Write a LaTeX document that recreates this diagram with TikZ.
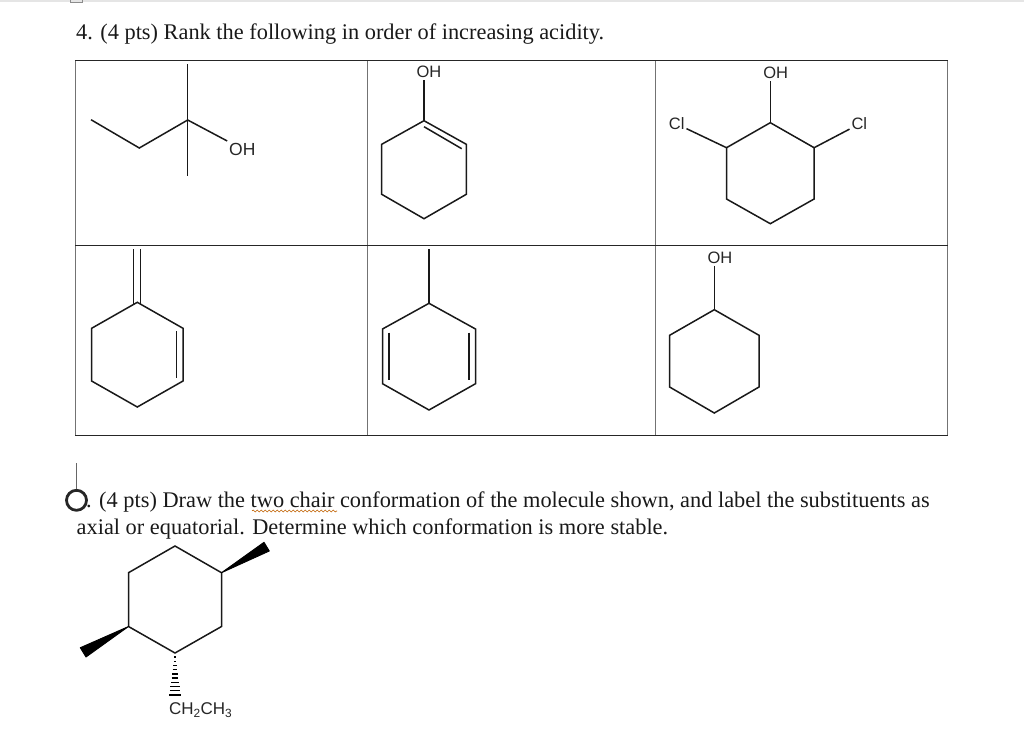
\documentclass[tikz,border=0pt]{standalone}
\usepackage{fontspec}
\setmainfont{Liberation Serif}
\setsansfont{Liberation Sans}
\usetikzlibrary{decorations.pathmorphing}
\tikzset{
  bond/.style={line width=1.5pt, line join=miter, color=black!90},
  gridh/.style={line width=1.2pt, color=black!85},
  gridv/.style={line width=1.5pt, color=black!55},
  chem/.style={font=\sffamily\fontsize{16.5}{18}\selectfont, inner sep=0pt, outer sep=2pt, color=black!85},
  prose/.style={font=\fontsize{22.35}{24}\selectfont, anchor=base west, inner sep=0pt, color=black!90}
}
% hexagon: name, x centre, half width, y of the six levels
\newcommand\ringat[7]{
  \coordinate (#1t) at (#2, #4);
  \coordinate (#1ur) at (#2+#3, #5);
  \coordinate (#1lr) at (#2+#3, #6);
  \coordinate (#1b) at (#2, #7);
  \coordinate (#1ll) at (#2-#3, #6);
  \coordinate (#1ul) at (#2-#3, #5);
  \draw[bond] (#1t) -- (#1ur) -- (#1lr) -- (#1b) -- (#1ll) -- (#1ul) -- cycle;
}
\begin{document}
\begin{tikzpicture}[x=1pt, y=-1pt]
  \useasboundingbox (0, 0) rectangle (1024, 747);

  % top strip of the page
  \fill[black!10] (0, 0) rectangle (1024, 1.8);
  \draw[black!45, line width=0.6pt] (70, 0) -- (70, 1.8) -- (82, 1.8) -- (82, 0);

  % question text
  \node[prose] (qfour) at (76, 39) {4. (4 pts) Rank the following in order of increasing acidity.};
  \node[prose] (qfive) at (86, 507) {. (4 pts) Draw the two chair conformation of the molecule shown, and label the substituents as};
  \node[prose] (qfivenext) at (76.5, 534) {axial or equatorial. Determine which conformation is more stable.};

  % circle with its stem
  \node[draw=black!85, line width=2.8pt, circle, minimum size=20pt, inner sep=0pt] (mark) at (76.5, 500.3) {};
  \coordinate (stem) at (76.5, 463);
  \draw[black!60, line width=1.1pt] (stem) -- (mark);

  % wavy line below two chair
  \coordinate (waves) at (252, 511);
  \coordinate (wavee) at (337, 511);
  \draw[orange!75!black, line width=0.6pt, decorate, decoration={snake, amplitude=1pt, segment length=4pt}] (waves) -- (wavee);

  % table
  \draw[gridv] (75.7, 60) -- (75.7, 435.7);
  \draw[gridv] (367.5, 60) -- (367.5, 435.7);
  \draw[gridv] (655.3, 60) -- (655.3, 435.7);
  \draw[gridv] (947.7, 60) -- (947.7, 435.7);
  \draw[gridh] (75.2, 60.4) -- (948.2, 60.4);
  \draw[gridh] (75.2, 245.5) -- (948.2, 245.5);
  \draw[gridh] (75.2, 435.7) -- (948.2, 435.7);

  % alcohol with open chain
  \coordinate (ca) at (91, 119.7);
  \coordinate (cb) at (139.3, 148);
  \coordinate (cc) at (187.7, 120);
  \coordinate (cd) at (187.7, 64);
  \coordinate (ce) at (187.7, 176);
  \node[chem, font=\sffamily\fontsize{17.5}{18}\selectfont] (ohchain) at (242.3, 149) {OH};
  \draw[bond] (ca) -- (cb) -- (cc);
  \draw[bond] (cd) -- (ce);
  \draw[bond] (cc) -- (ohchain);

  % enol ring
  \ringat{en}{424}{42.3}{120.7}{144.3}{194.3}{218.7}
  \coordinate (ena) at (424, 126.7);
  \coordinate (enb) at (461.7, 148.7);
  \draw[bond] (ena) -- (enb);
  \node[chem] (ohen) at (429, 72.3) {OH};
  \draw[bond] (ohen.south -| ent) -- (ent);

  % ring with two chlorines
  \ringat{cl}{770.3}{43.8}{122.7}{147.7}{199}{223.7}
  \node[chem] (ohcl) at (775.7, 73.3) {OH};
  \node[chem] (clleft) at (676.7, 124) {Cl};
  \node[chem] (clright) at (859.3, 124) {Cl};
  \draw[bond] (ohcl.south -| clt) -- (clt);
  \draw[bond] (clleft) -- (clul);
  \draw[bond] (clright) -- (clur);

  % ring with exocyclic double bond
  \ringat{ex}{137.3}{45.7}{302.3}{328.3}{381}{407}
  \coordinate (exa) at (133.7, 249.3);
  \coordinate (exb) at (140.7, 249.3);
  \coordinate (exc) at (133.7, 304.3);
  \coordinate (exd) at (140.7, 304.3);
  \draw[bond] (exa) -- (exc);
  \draw[bond] (exb) -- (exd);
  \coordinate (exe) at (176.3, 331);
  \coordinate (exf) at (176.3, 377.7);
  \draw[bond] (exe) -- (exf);

  % diene ring
  \ringat{di}{429}{46.5}{303.3}{329}{383.7}{410}
  \coordinate (dia) at (429, 249.3);
  \draw[bond] (dia) -- (dit);
  \coordinate (dib) at (389, 332.7);
  \coordinate (dic) at (389, 380);
  \coordinate (did) at (469, 332.7);
  \coordinate (die) at (469, 380);
  \draw[bond] (dib) -- (dic);
  \draw[bond] (did) -- (die);

  % cyclohexanol
  \ringat{an}{714.3}{44.7}{309.7}{335.3}{387}{413}
  \node[chem] (ohan) at (720, 258) {OH};
  \draw[bond] (ohan.south -| ant) -- (ant);

  % substituted ring
  \ringat{su}{175}{46.5}{546}{572.7}{626.5}{653}
  \coordinate (wra) at (264, 542.3);
  \coordinate (wrb) at (269.3, 551);
  \coordinate (wla) at (80.3, 647.7);
  \coordinate (wlb) at (86, 657);
  \filldraw[black, line width=0.9pt, line join=round] (suur) -- (wra) -- (wrb) -- cycle;
  \filldraw[black, line width=0.9pt, line join=round] (sull) -- (wla) -- (wlb) -- cycle;
  \foreach \i in {0,...,9} {
    \draw[black, line width=1.4pt] (175-0.6-0.56*\i, 657+4.2*\i) -- (175+0.6+0.56*\i, 657+4.2*\i);
  }
  \node[chem, anchor=base west, inner sep=0pt, outer sep=0pt, font=\sffamily\fontsize{17}{18}\selectfont] (ethyl) at (169, 714.5) {CH\textsubscript{2}CH\textsubscript{3}};

\end{tikzpicture}
\end{document}
